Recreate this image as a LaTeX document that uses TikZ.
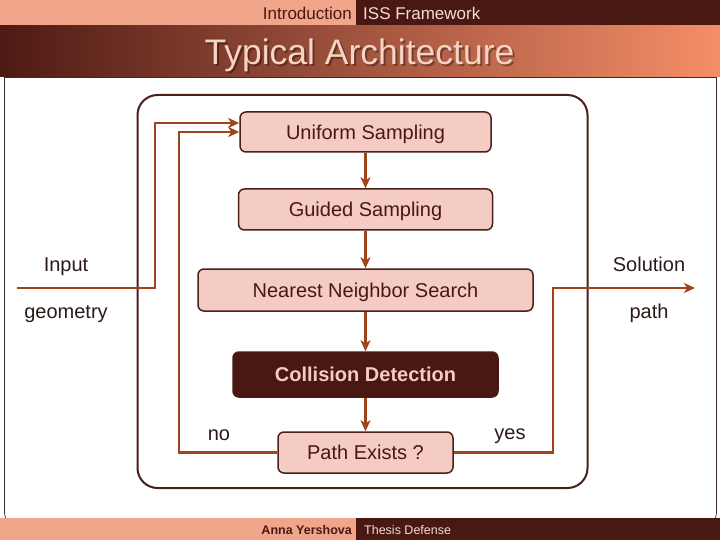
\documentclass[tikz,border=0pt]{standalone}
\usepackage{fontspec}
\setmainfont{Liberation Sans}
\usetikzlibrary{arrows.meta,calc}
\definecolor{salmon}{HTML}{F1A58B}
\definecolor{darkbr}{HTML}{4A1812}
\definecolor{nodefill}{HTML}{F5CCC4}
\definecolor{nodeline}{HTML}{4A1F1A}
\definecolor{rust}{HTML}{A0441E}
\definecolor{titletxt}{HTML}{F8D3C3}
\definecolor{gradR}{HTML}{F58E68}
\definecolor{gradL}{HTML}{4E1A14}
\definecolor{frameline}{HTML}{3A2A28}
\definecolor{labeltxt}{HTML}{2A1A18}
\definecolor{lighttxt}{HTML}{F3DCD2}
\begin{document}
\begin{tikzpicture}[x=1pt,y=-1pt,
  box/.style={draw=nodeline, line width=1.5pt, fill=nodefill, rounded corners=6pt,
    text=darkbr, inner sep=0pt, font=\fontsize{20}{24}\selectfont,
    text height=14.4pt, text depth=0pt},
  darkbox/.style={box, fill=darkbr, draw=darkbr, text=nodefill, font=\fontsize{20}{24}\selectfont\bfseries},
  conn/.style={draw=rust, line width=2.5pt, -{Stealth[length=11pt,width=10pt,inset=3pt]}},
  lbl/.style={anchor=base, text=labeltxt, inner sep=0pt, font=\fontsize{20}{24}\selectfont},
  bartxt/.style={inner sep=0pt, font=\fontsize{17}{20}\selectfont},
  foottxt/.style={inner sep=0pt, font=\fontsize{12.5}{14}\selectfont}]
\useasboundingbox (0,0) rectangle (720,540);
% header bar
\fill[salmon] (0,0) rectangle (356,26);
\fill[darkbr] (356,0) rectangle (720,26);
\node[bartxt, anchor=base east, text=darkbr] (sec) at (352,19.5) {Introduction};
\node[bartxt, anchor=base west, text=lighttxt] (sub) at (363,19.5) {ISS Framework};
% outer frame (top edge hidden under the title band)
\draw[frameline, line width=0.7pt, rounded corners=12pt] (4.5,70) -- (4.5,525) -- (716.5,525) -- (716.5,70);
% title band
\shade[left color=gradL, right color=gradR] (0,26) rectangle (720,77);
\draw[frameline, line width=0.7pt] (4.5,77) -- (716.5,77);
\node[anchor=base, inner sep=0pt, font=\fontsize{35.5}{40}\selectfont, text=black, opacity=0.35] (tshadow) at (361.5,66.5) {Typical Architecture};
\node[anchor=base, inner sep=0pt, font=\fontsize{35.5}{40}\selectfont, text=titletxt] (title) at (359.5,65) {Typical Architecture};
% footer
\fill[salmon] (0,518) rectangle (356,540);
\fill[darkbr] (356,518) rectangle (720,540);
\node[foottxt, anchor=base east, text=darkbr, font=\fontsize{12.5}{14}\selectfont\bfseries] (author) at (352,534) {Anna Yershova};
\node[foottxt, anchor=base west, text=lighttxt] (talk) at (364,534) {Thesis Defense};
% main loop frame
\node[draw=nodeline, line width=2pt, rounded corners=20pt, minimum width=450pt, minimum height=393pt, inner sep=0pt] (loop) at (362.5,291.5) {};
% boxes
\node[box, minimum width=251pt, minimum height=40pt] (uni) at (365.5,132) {Uniform Sampling};
\node[box, minimum width=254pt, minimum height=41pt] (gui) at (365.5,209.5) {Guided Sampling};
\node[box, minimum width=335pt, minimum height=42pt] (nns) at (365.5,290) {Nearest Neighbor Search};
\node[darkbox, minimum width=265pt, minimum height=45pt] (col) at (365.5,374.5) {Collision Detection};
\node[box, minimum width=175pt, minimum height=41pt] (pe) at (365.5,452.5) {Path Exists ?};
% vertical flow
\draw[conn] (uni.south) -- (gui.north);
\draw[conn] (gui.south) -- (nns.north);
\draw[conn] (nns.south) -- (col.north);
\draw[conn] (col.south) -- (pe.north);
% input
\coordinate (inS) at (17,288);
\coordinate (inC) at (155,288);
\coordinate (inT) at (155,123);
\draw[conn] (inS) -- (inC) -- (inT) -- (inT -| uni.west);
% no loop
\coordinate (noC) at (179,452.5);
\draw[conn] (pe.west) -- (noC) |- (uni.west);
% yes output
\coordinate (yesC) at (553,452.5);
\coordinate (outE) at (695,288);
\draw[conn] (pe.east) -- (yesC) |- (outE);
% labels
\node[lbl] (linput) at (66,271) {Input};
\node[lbl] (lgeom) at (66,318) {geometry};
\node[lbl] (lsol) at (649,271) {Solution};
\node[lbl] (lpath) at (649,318) {path};
\node[lbl] (lno) at (219,440) {no};
\node[lbl] (lyes) at (510,439) {yes};
\end{tikzpicture}
\end{document}
